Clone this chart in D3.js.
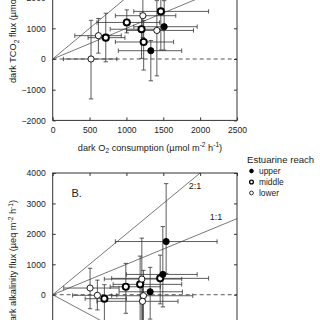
<!DOCTYPE html>
<html><head><meta charset="utf-8">
<script src="https://cdn.jsdelivr.net/npm/d3@7"></script>
<style>
body{margin:0;background:#fff;}
svg{display:block;}
text{font-family:"Liberation Sans",Arial,Helvetica,sans-serif;fill:#222;}
</style></head>
<body>
<svg id="c" width="320" height="320"></svg>
<script>
// ---------- data ----------
const xTicks = [0, 500, 1000, 1500, 2000, 2500];
const yTicksA = [-2000, -1000, 0, 1000, 2000, 3000];
const yTicksB = [-2000, -1000, 0, 1000, 2000, 3000, 4000];
const reaches = ["upper", "middle", "lower"];

// Panel A: dark O2 consumption vs dark TCO2 flux
const reachA = ["lower","lower","middle","middle","lower","middle","middle","lower","upper","middle","upper"];
const o2A    = [520, 620, 720, 1005, 1223, 1467, 1205, 1413, 1512, 1234, 1331];
const o2LoA  = [145, 300, 480, 600, 850, 1100, 780, 1000, 1100, 850, 890];
const o2HiA  = [870, 930, 980, 1450, 1670, 2115, 1500, 1910, 1960, 1640, 1750];
const tco2A  = [0, 760, 695, 1190, 1410, 1550, 970, 930, 1052, 554, 270];
const tco2LoA= [-1300, 190, -90, 850, 700, 290, 20, -550, 290, -360, -710];
const tco2HiA= [1260, 1320, 1490, 1600, 2100, 2800, 1490, 1900, 1900, 1250, 600];

// Panel B: dark O2 consumption vs dark alkalinity flux
const reachB = ["lower","lower","middle","middle","middle","lower","lower","lower","upper","middle","upper","upper"];
const o2B    = [507, 606, 701, 992, 1186, 1209, 1231, 1218, 1322, 1458, 1494, 1539];
const o2LoB  = [150, 270, 440, 780, 820, 700, 800, 600, 900, 800, 1000, 850];
const o2HiB  = [900, 870, 1000, 1460, 1750, 1750, 1900, 1700, 1760, 2115, 1960, 2230];
const alkB   = [220, -20, -130, 262, 341, 515, -33, -216, 98, 538, 667, 1748];
const alkLoB = [-460, -500, -1000, -610, -900, -1200, -900, -1500, -800, -300, -400, 700];
const alkHiB = [870, 480, 330, 1030, 1270, 1860, 800, 400, 900, 1300, 2240, 3650];

// ratio lines (flux : O2)
const ratiosA = [2, 1];
const ratiosB = [2, 1, -1.3];
const ratioLabels = ["2:1", "1:1"];

// ---------- drawing ----------
const svg = d3.select("#c");
const X0 = 52.7, X1 = 237;
const x = d3.scaleLinear().domain([0, 2500]).range([X0, X1]);
const yA = d3.scaleLinear().domain([-2000, 3000]).range([120.4, -33.1]);
const yB = d3.scaleLinear().domain([-2000, 4000]).range([355.6, 173]);

const defs = svg.append("defs");
function clip(id, y) {
  defs.append("clipPath").attr("id", id).append("rect")
    .attr("x", X0).attr("y", y.range()[1]).attr("width", X1 - X0)
    .attr("height", y.range()[0] - y.range()[1]);
}
clip("clipA", yA); clip("clipB", yB);

function rich(sel, parts, size) {
  parts.forEach(([t, k]) => {
    const ts = sel.append("tspan").text(t);
    if (k === "sub") ts.attr("font-size", size * 0.72).attr("dy", size * 0.3);
    else if (k === "sup") ts.attr("font-size", size * 0.72).attr("dy", -size * 0.38);
    else if (k === "back-sub") ts.attr("dy", -size * 0.3);
    else if (k === "back-sup") ts.attr("dy", size * 0.38);
  });
}

function panel(y, clipId, reach, xs, xlo, xhi, ys, ylo, yhi, ratios, yTicks, showXLabels) {
  const g = svg.append("g");
  const body = g.append("g").attr("clip-path", `url(#${clipId})`);
  // ratio lines
  ratios.forEach(r => {
    body.append("line")
      .attr("x1", x(0)).attr("y1", y(0))
      .attr("x2", x(2500)).attr("y2", y(r * 2500))
      .attr("stroke", "#555").attr("stroke-width", 0.8);
  });
  // dashed zero line
  body.append("line")
    .attr("x1", x(0)).attr("x2", x(2500)).attr("y1", y(0)).attr("y2", y(0))
    .attr("stroke", "#444").attr("stroke-width", 0.9).attr("stroke-dasharray", "4,3");
  const idx = d3.range(xs.length);
  const cap = 2.2;
  const eb = body.append("g").attr("stroke", "#333").attr("stroke-width", 0.8).attr("fill", "none");
  idx.forEach(i => {
    eb.append("line").attr("x1", x(xlo[i])).attr("x2", x(xhi[i])).attr("y1", y(ys[i])).attr("y2", y(ys[i]));
    eb.append("line").attr("x1", x(xlo[i])).attr("x2", x(xlo[i])).attr("y1", y(ys[i]) - cap).attr("y2", y(ys[i]) + cap);
    eb.append("line").attr("x1", x(xhi[i])).attr("x2", x(xhi[i])).attr("y1", y(ys[i]) - cap).attr("y2", y(ys[i]) + cap);
    eb.append("line").attr("x1", x(xs[i])).attr("x2", x(xs[i])).attr("y1", y(ylo[i])).attr("y2", y(yhi[i]));
    eb.append("line").attr("x1", x(xs[i]) - cap).attr("x2", x(xs[i]) + cap).attr("y1", y(ylo[i])).attr("y2", y(ylo[i]));
    eb.append("line").attr("x1", x(xs[i]) - cap).attr("x2", x(xs[i]) + cap).attr("y1", y(yhi[i])).attr("y2", y(yhi[i]));
  });
  body.append("g").selectAll("circle").data(idx).join("circle")
    .attr("cx", i => x(xs[i])).attr("cy", i => y(ys[i])).attr("r", 3.1)
    .attr("fill", i => reach[i] === "upper" ? "#000" : "#fff")
    .attr("stroke", "#000")
    .attr("stroke-width", i => reach[i] === "middle" ? 1.9 : 0.9);
  // frame
  g.append("rect").attr("x", X0).attr("y", y.range()[1]).attr("width", X1 - X0)
    .attr("height", y.range()[0] - y.range()[1])
    .attr("fill", "none").attr("stroke", "#333").attr("stroke-width", 1);
  const styleAxis = a => {
    a.select(".domain").remove();
    a.selectAll(".tick line").attr("stroke", "#333");
    a.selectAll("text").attr("font-size", 8.6).attr("fill", "#222")
      .attr("font-family", "Liberation Sans, Arial, sans-serif");
  };
  g.append("g").attr("transform", `translate(0,${y.range()[0]})`)
    .call(d3.axisBottom(x).tickValues(xTicks).tickSize(-3).tickPadding(7)
      .tickFormat(showXLabels ? d3.format("d") : "")).call(styleAxis);
  g.append("g").attr("transform", `translate(0,${y.range()[1]})`)
    .call(d3.axisTop(x).tickValues(xTicks).tickSize(-3).tickFormat("")).call(styleAxis);
  g.append("g").attr("transform", `translate(${X0},0)`)
    .call(d3.axisLeft(y).tickValues(yTicks).tickSize(-3).tickPadding(7).tickFormat(d3.format("d"))).call(styleAxis);
  g.append("g").attr("transform", `translate(${X1},0)`)
    .call(d3.axisRight(y).tickValues(yTicks).tickSize(-3).tickFormat("")).call(styleAxis);
  return g;
}

panel(yA, "clipA", reachA, o2A, o2LoA, o2HiA, tco2A, tco2LoA, tco2HiA, ratiosA, yTicksA, true);
panel(yB, "clipB", reachB, o2B, o2LoB, o2HiB, alkB, alkLoB, alkHiB, ratiosB, yTicksB, false);

// axis titles
const fs = 9.2;
rich(svg.append("text").attr("x", 150).attr("y", 150.5).attr("text-anchor", "middle").attr("font-size", fs),
  [["dark O", ""], ["2", "sub"], [" consumption (\u00b5mol m", "back-sub"], ["-2", "sup"], [" h", "back-sup"], ["-1", "sup"], [")", "back-sup"]], fs);
rich(svg.append("text").attr("transform", "translate(16,83) rotate(-90)").attr("text-anchor", "start").attr("font-size", fs),
  [["dark TCO", ""], ["2", "sub"], [" flux (\u00b5mol m", "back-sub"], ["-2", "sup"], [" h", "back-sup"], ["-1", "sup"], [")", "back-sup"]], fs);
rich(svg.append("text").attr("transform", "translate(16,200) rotate(-90)").attr("text-anchor", "end").attr("font-size", fs),
  [["dark alkalinity flux (\u00b5eq m", ""], ["-2", "sup"], [" h", "back-sup"], ["-1", "sup"], [")", "back-sup"]], fs);

// panel letter and ratio labels
svg.append("text").attr("x", 71.5).attr("y", 197).attr("font-size", 11).text("B.");
svg.append("text").attr("x", 195).attr("y", 189).attr("text-anchor", "middle").attr("font-size", 9).text(ratioLabels[0]);
svg.append("text").attr("x", 216).attr("y", 220).attr("text-anchor", "middle").attr("font-size", 9).text(ratioLabels[1]);

// legend
const lg = svg.append("g");
lg.append("text").attr("x", 247).attr("y", 162.5).attr("font-size", 9.6).text("Estuarine reach");
reaches.forEach((r, i) => {
  const cy = 171 + i * 11;
  lg.append("circle").attr("cx", 251.5).attr("cy", cy).attr("r", 1.9)
    .attr("fill", r === "upper" ? "#000" : "#fff").attr("stroke", "#000")
    .attr("stroke-width", r === "middle" ? 1.3 : 0.8);
  lg.append("text").attr("x", 259).attr("y", cy + 3).attr("font-size", 8.4).text(r);
});
</script>
</body></html>
